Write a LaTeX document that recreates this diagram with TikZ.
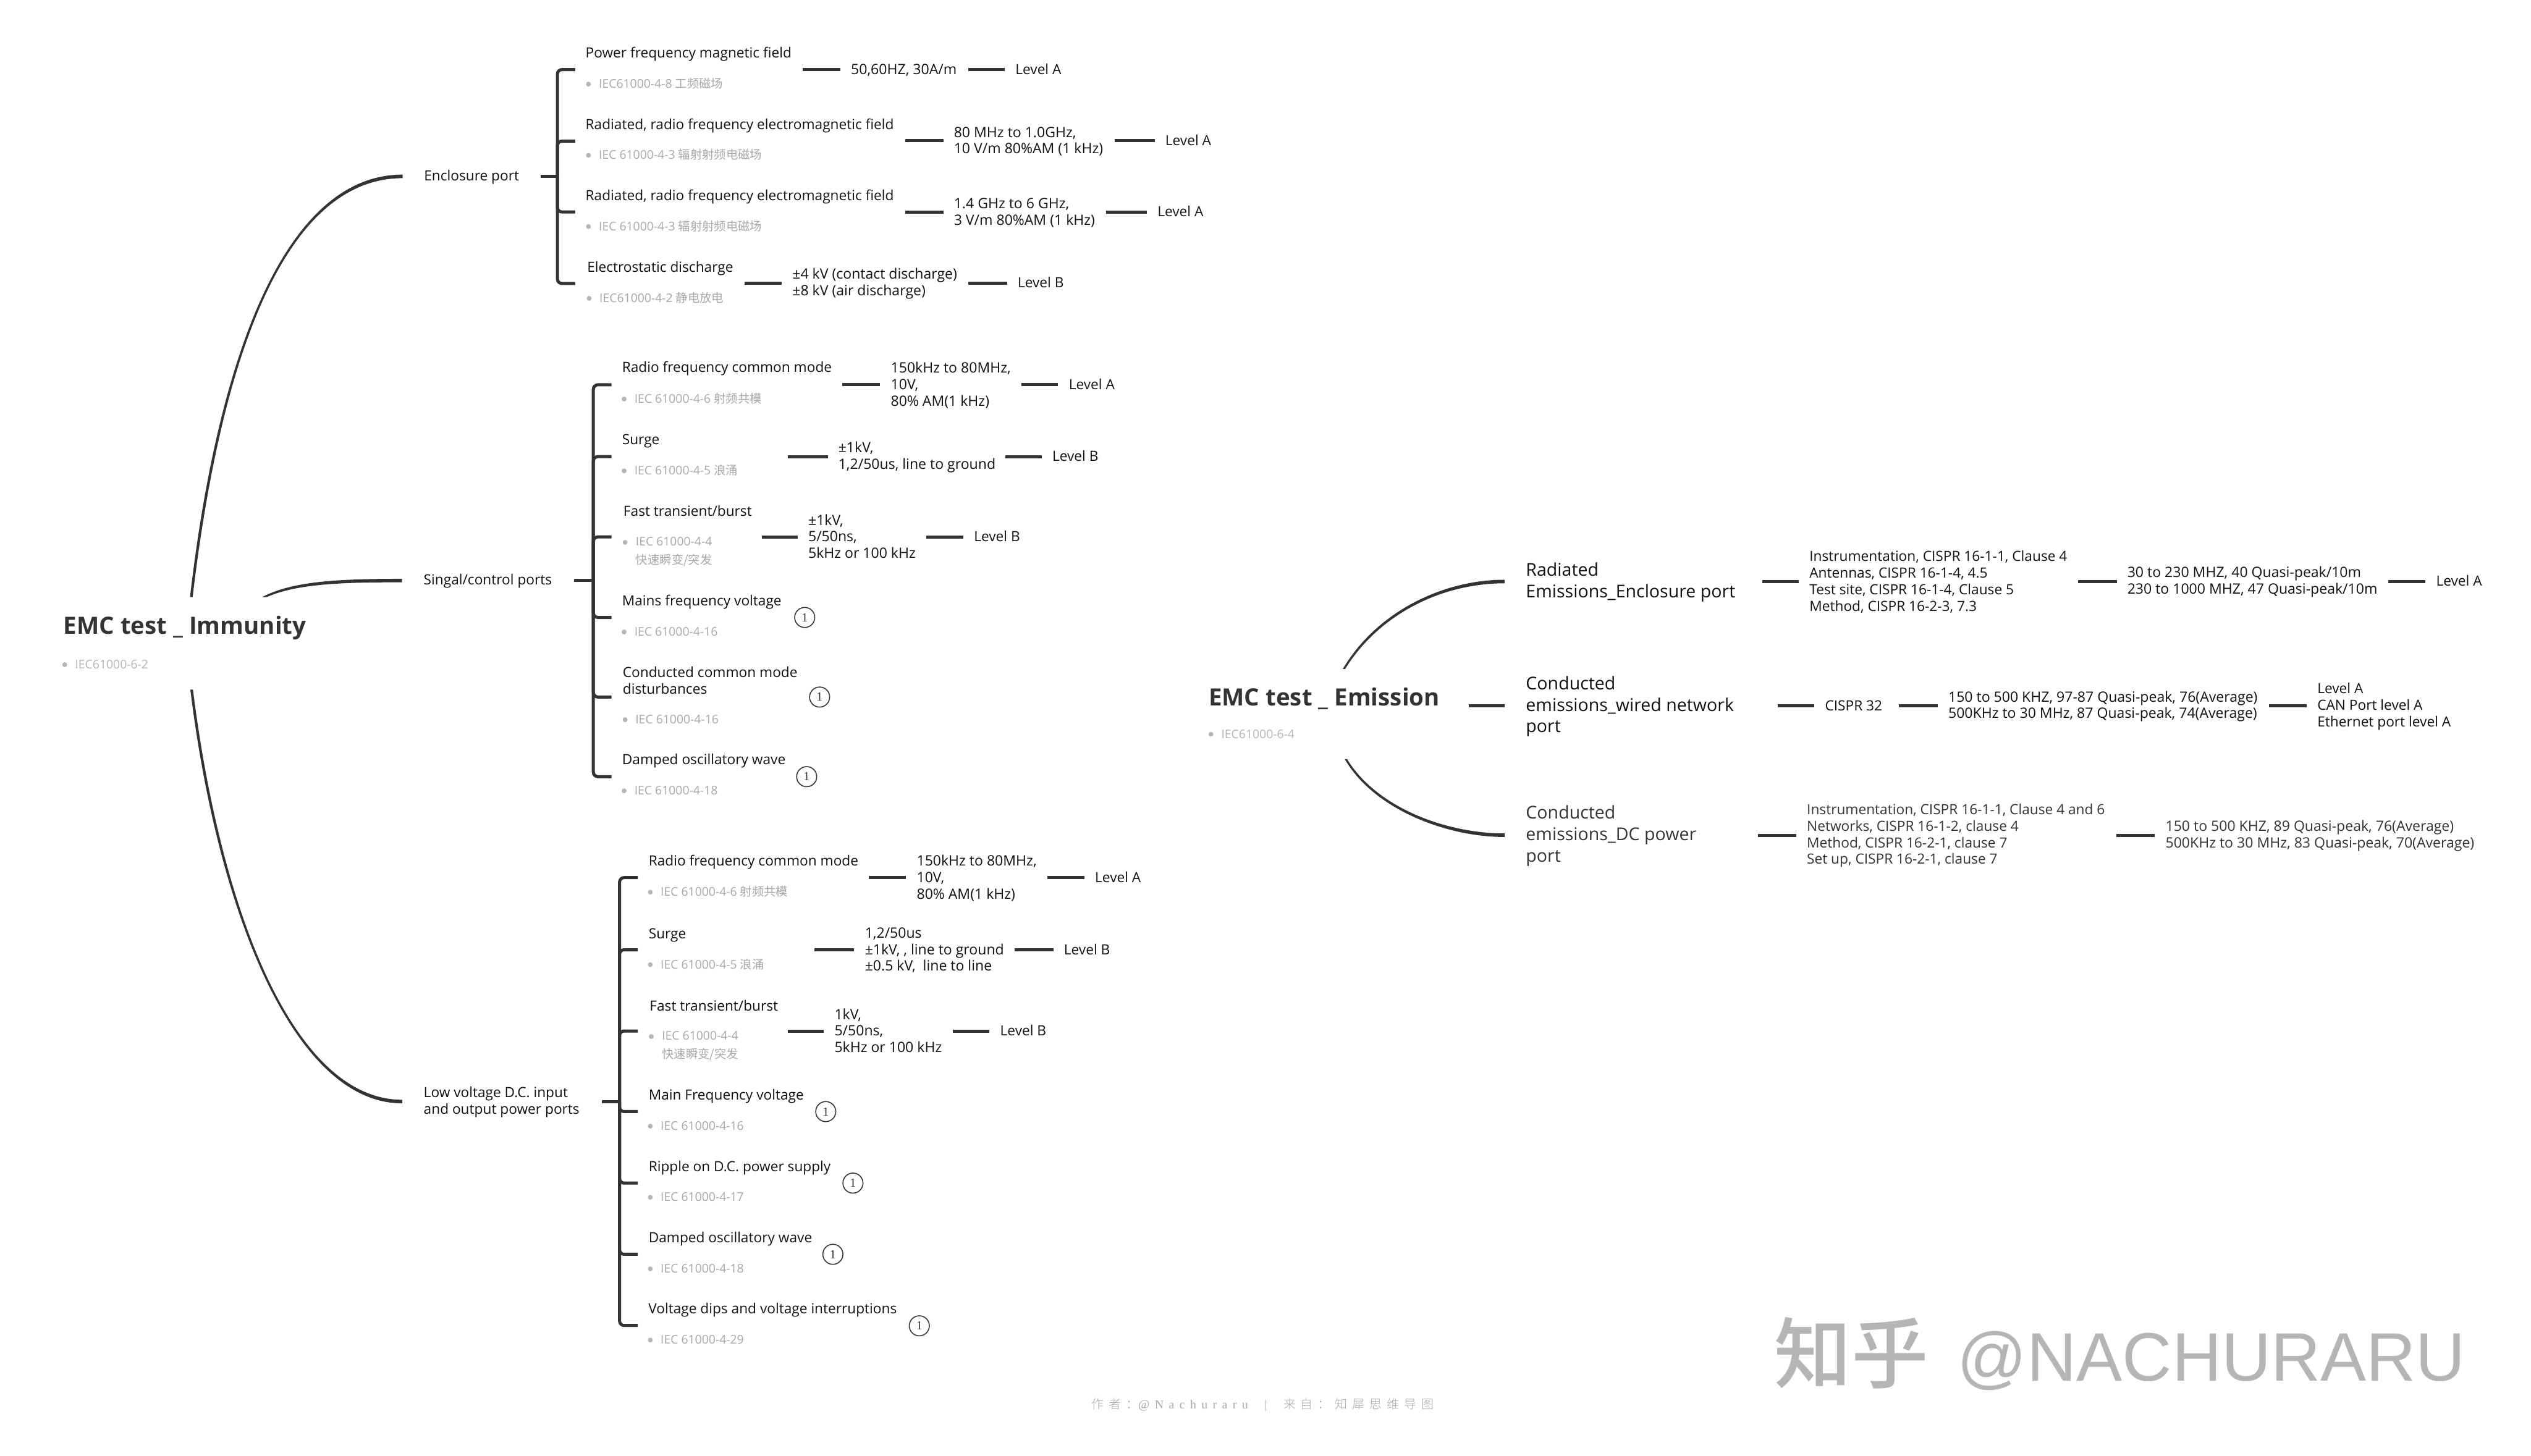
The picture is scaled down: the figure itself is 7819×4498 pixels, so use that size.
\documentclass[tikz,border=0pt]{standalone}
\usepackage{fontspec}
\usetikzlibrary{calc}
\setmainfont{Open Sans}
\newfontfamily\cjk{Noto Sans CJK SC}
\newfontfamily\cjkm{Noto Sans CJK SC Medium}
\newfontfamily\footc[LetterSpace=40]{Noto Sans CJK SC Light}
\newfontfamily\footl[LetterSpace=42]{Liberation Serif}
\newfontfamily\wmark{Liberation Sans}
\newfontfamily\numf{Liberation Serif}
\definecolor{ink}{HTML}{333333}
\definecolor{txt}{HTML}{111111}
\definecolor{subc}{HTML}{A8A8A8}
\definecolor{dotc}{HTML}{B5B5B5}
\newcommand\Z{\rule[-.17em]{0pt}{1.01em}}
\newcommand\fs[2]{\fontsize{#1}{#2}\selectfont}
\tikzset{
  x=1pt,y=-1pt,
  link/.style={draw=ink,line width=9.5pt},
  hook/.style={link,rounded corners=14pt},
  curve/.style={fill=ink,draw=none},
  body/.style={anchor=west,inner sep=0pt,outer sep=0pt,align=left,text=txt,font=\fs{43.3}{51}},
  bodyd/.style={body,text=ink},
  val/.style={body,font=\fs{44}{51}},
  vald/.style={val,text=ink},
  big/.style={body,font=\fs{54.5}{66.5}},
  bigd/.style={big,text=ink},
  rootn/.style={body,text=ink,font=\fs{73.5}{88}\bfseries},
  sub/.style={body,text=subc,font=\fs{37}{58}},
  rsub/.style={sub,text=dotc},
  dotm/.style={circle,fill=dotc,draw=none,inner sep=0pt,minimum size=15pt},
  mark1/.style={circle,draw=ink,line width=3pt,inner sep=0pt,minimum size=62pt,font=\numf\fs{38}{44},text=ink},
}
\newcommand\subn[4]{\node[dotm] (#1d) at (#2,#3) {}; \node[sub] (#1) at (#2+32,#3) {#4};}
\newcommand\dlink[3][35]{\draw[link] ([xshift=#1pt]#2.east |- #3.west) -- ([xshift=-33pt]#3.west);}
\begin{document}
\begin{tikzpicture}
\useasboundingbox (0,0) rectangle (7819,4498);
\fill[white] (0,0) rectangle (7819,4498);

% ---------- Immunity root
\node[rootn] (root1) at (196,1938) {\Z EMC test \_ Immunity};
\node[dotm] (root1d) at (200,2054) {};
\node[rsub] (root1s) at (232,2054) {\Z IEC61000-6-2};

\node[body] (encl) at (1310,545) {\Z Enclosure port};
\node[body] (sig) at (1309,1794) {\Z Singal/control ports};
\node[body] (low) at (1309,3404) {\Z Low voltage D.C. input\\\Z and output power ports};

\coordinate (c1s) at (591,1845);
\coordinate (c1e) at ([xshift=-66pt]encl.west);
\coordinate (c2s) at (817,1845);
\coordinate (c2e) at ([xshift=-67pt]sig.west);
\coordinate (c3s) at (592,2131);
\coordinate (c3e) at ([xshift=-66pt]low.west);
\fill[curve] ($(c1s)+(-4,0)$) .. controls (680,1045) and (900,539.5) .. ($(c1e)+(0,-5.5)$) -- ($(c1e)+(0,5.5)$) .. controls (900,550.5) and (690,1045) .. ($(c1s)+(4,0)$) -- cycle;
\fill[curve] ($(c2s)+(-7,0)$) .. controls (905,1795) and (1050,1789) .. ($(c2e)+(0,-5.5)$) -- ($(c2e)+(0,5.5)$) .. controls (1050,1799) and (915,1805) .. ($(c2s)+(7,0)$) -- cycle;
\fill[curve] ($(c3s)+(-4,0)$) .. controls (674,2831) and (913,3410.5) .. ($(c3e)+(0,5.5)$) -- ($(c3e)+(0,-5.5)$) .. controls (913,3399.5) and (684,2831) .. ($(c3s)+(4,0)$) -- cycle;

% ---------- Enclosure port branch
\coordinate (ehub) at (1722,545);
\draw[link] ([xshift=67pt]encl.east) -- (ehub);
\foreach \y in {215,436,655,876}{\coordinate (eb\y) at (1777,\y); \draw[hook] (ehub) |- (eb\y);}

\node[body] (e1t) at (1809,166) {\Z Power frequency magnetic field};
\subn{e1s}{1818}{260}{\Z IEC61000-4-8 {\cjk 工频磁场}}
\node[val] (e1v) at (2629,215) {\Z 50,60HZ, 30A/m};
\node[body] (e1l) at (3137,215) {\Z Level A};
\dlink{e1t}{e1v} \dlink{e1v}{e1l}

\node[body] (e2t) at (1809,386) {\Z Radiated, radio frequency electromagnetic field};
\subn{e2s}{1818}{480}{\Z IEC 61000-4-3 {\cjk 辐射射频电磁场}}
\node[val] (e2v) at (2947,435) {\Z 80 MHz to 1.0GHz,\\\Z 10 V/m 80\%AM (1 kHz)};
\node[body] (e2l) at (3600,435) {\Z Level A};
\dlink{e2t}{e2v} \dlink{e2v}{e2l}

\node[body] (e3t) at (1809,606) {\Z Radiated, radio frequency electromagnetic field};
\subn{e3s}{1818}{700}{\Z IEC 61000-4-3 {\cjk 辐射射频电磁场}}
\node[val] (e3v) at (2947,655) {\Z 1.4 GHz to 6 GHz,\\\Z 3 V/m 80\%AM (1 kHz)};
\node[body] (e3l) at (3576,655) {\Z Level A};
\dlink{e3t}{e3v} \dlink{e3v}{e3l}

\node[body] (e4t) at (1814,827) {\Z Electrostatic discharge};
\subn{e4s}{1820}{922}{\Z IEC61000-4-2 {\cjk 静电放电}}
\node[val] (e4v) at (2448,875) {\Z ±4 kV (contact discharge)\\\Z ±8 kV (air discharge)};
\node[body] (e4l) at (3144,875) {\Z Level B};
\dlink{e4t}{e4v} \dlink{e4v}{e4l}

% ---------- Signal ports branch
\coordinate (shub) at (1833,1794);
\draw[link] ([xshift=69pt]sig.east) -- (shub);
\foreach \y in {1189,1411,1659,1908,2154,2400}{\coordinate (sb\y) at (1889,\y); \draw[hook] (shub) |- (sb\y);}

\node[body] (s1t) at (1922,1138) {\Z Radio frequency common mode};
\subn{s1s}{1928}{1233}{\Z IEC 61000-4-6 {\cjk 射频共模}}
\node[val] (s1v) at (2752,1189) {\Z 150kHz to 80MHz,\\\Z 10V,\\\Z 80\% AM(1 kHz)};
\node[body] (s1l) at (3302,1189) {\Z Level A};
\dlink[33]{s1t}{s1v} \dlink[33]{s1v}{s1l}

\node[body] (s2t) at (1922,1361) {\Z Surge};
\subn{s2s}{1928}{1455}{\Z IEC 61000-4-5 {\cjk 浪涌}}
\node[val] (s2v) at (2590,1411) {\Z ±1kV,\\\Z 1,2/50us, line to ground};
\node[body] (s2l) at (3251,1411) {\Z Level B};
\dlink[155]{s2s}{s2v} \dlink[30]{s2v}{s2l}

\node[body] (s3t) at (1926,1581) {\Z Fast transient/burst};
\node[dotm] (s3sd) at (1931,1676) {};
\node[sub,anchor=north west] (s3s) at (1964,1655) {\Z IEC 61000-4-4\\\Z {\cjk 快速瞬变/突发}};
\node[val] (s3v) at (2497,1659) {\Z ±1kV,\\\Z 5/50ns,\\\Z 5kHz or 100 kHz};
\node[body] (s3l) at (3009,1659) {\Z Level B};
\dlink[30]{s3t}{s3v} \dlink[33]{s3v}{s3l}

\node[body] (s4t) at (1922,1858) {\Z Mains frequency voltage};
\subn{s4s}{1928}{1953}{\Z IEC 61000-4-16}
\node[mark1] (s4m) at (2486,1908) {1};

\node[body] (s5t) at (1924,2105) {\Z Conducted common mode\\\Z disturbances};
\subn{s5s}{1931}{2224}{\Z IEC 61000-4-16}
\node[mark1] (s5m) at (2532,2154) {1};

\node[body] (s6t) at (1922,2350) {\Z Damped oscillatory wave};
\subn{s6s}{1928}{2444}{\Z IEC 61000-4-18}
\node[mark1] (s6m) at (2492,2400) {1};

% ---------- Low voltage branch
\coordinate (lhub) at (1914,3404);
\draw[link] ([xshift=69pt]low.east) -- (lhub);
\foreach \y in {2712,2935,3186,3435,3656,3876,4096}{\coordinate (lb\y) at (1970,\y); \draw[hook] (lhub) |- (lb\y);}

\node[body] (l1t) at (2004,2662) {\Z Radio frequency common mode};
\subn{l1s}{2009}{2757}{\Z IEC 61000-4-6 {\cjk 射频共模}}
\node[val] (l1v) at (2832,2712) {\Z 150kHz to 80MHz,\\\Z 10V,\\\Z 80\% AM(1 kHz)};
\node[body] (l1l) at (3383,2712) {\Z Level A};
\dlink[33]{l1t}{l1v} \dlink[33]{l1v}{l1l}

\node[body] (l2t) at (2004,2887) {\Z Surge};
\subn{l2s}{2009}{2981}{\Z IEC 61000-4-5 {\cjk 浪涌}}
\node[val] (l2v) at (2672,2935) {\Z 1,2/50us\\\Z ±1kV, , line to ground\\\Z ±0.5 kV,\ \ line to line};
\node[body] (l2l) at (3287,2935) {\Z Level B};
\dlink[155]{l2s}{l2v} \dlink[33]{l2v}{l2l}

\node[body] (l3t) at (2007,3109) {\Z Fast transient/burst};
\node[dotm] (l3sd) at (2012,3203) {};
\node[sub,anchor=north west] (l3s) at (2045,3182) {\Z IEC 61000-4-4\\\Z {\cjk 快速瞬变/突发}};
\node[val] (l3v) at (2578,3186) {\Z 1kV,\\\Z 5/50ns,\\\Z 5kHz or 100 kHz};
\node[body] (l3l) at (3090,3186) {\Z Level B};
\dlink[30]{l3t}{l3v} \dlink[33]{l3v}{l3l}

\node[body] (l4t) at (2004,3386) {\Z Main Frequency voltage};
\subn{l4s}{2009}{3480}{\Z IEC 61000-4-16}
\node[mark1] (l4m) at (2551,3435) {1};

\node[body] (l5t) at (2004,3607) {\Z Ripple on D.C. power supply};
\subn{l5s}{2009}{3700}{\Z IEC 61000-4-17}
\node[mark1] (l5m) at (2635,3656) {1};

\node[body] (l6t) at (2004,3827) {\Z Damped oscillatory wave};
\subn{l6s}{2009}{3921}{\Z IEC 61000-4-18}
\node[mark1] (l6m) at (2573,3876) {1};

\node[body] (l7t) at (2003,4047) {\Z Voltage dips and voltage interruptions};
\subn{l7s}{2009}{4141}{\Z IEC 61000-4-29}
\node[mark1] (l7m) at (2840,4097) {1};

% ---------- Emission root
\node[rootn] (root2) at (3734,2157) {\Z EMC test \_ Emission};
\node[dotm] (root2d) at (3741,2269) {};
\node[rsub] (root2s) at (3773,2269) {\Z IEC61000-6-4};

\node[big] (r1) at (4714,1797) {\Z Radiated\\\Z Emissions\_Enclosure port};
\node[big] (r2) at (4714,2181) {\Z Conducted\\\Z emissions\_wired network\\\Z port};
\node[bigd] (r3) at (4714,2581) {\Z Conducted\\\Z emissions\_DC power\\\Z port};

\coordinate (d1s) at (4152,2067);
\coordinate (d1e) at ([xshift=-66pt]r1.west);
\coordinate (d3s) at (4158,2346);
\coordinate (d3e) at ([xshift=-66pt]r3.west);
\fill[curve] ($(d1s)+(-3.5,0)$) .. controls (4255,1888) and (4460,1791.5) .. ($(d1e)+(0,-5.5)$) -- ($(d1e)+(0,5.5)$) .. controls (4460,1802.5) and (4265,1892) .. ($(d1s)+(3.5,0)$) -- cycle;
\fill[curve] ($(d3s)+(-3.5,0)$) .. controls (4245,2502) and (4470,2586.5) .. ($(d3e)+(0,5.5)$) -- ($(d3e)+(0,-5.5)$) .. controls (4470,2575.5) and (4255,2498) .. ($(d3s)+(3.5,0)$) -- cycle;
\draw[link] ([xshift=90pt]root2.east |- r2.west) -- ([xshift=-66pt]r2.west);

\node[body] (r1a) at (5590,1797) {\Z Instrumentation, CISPR 16-1-1, Clause 4\\\Z Antennas, CISPR 16-1-4, 4.5\\\Z Test site, CISPR 16-1-4, Clause 5\\\Z Method, CISPR 16-2-3, 7.3};
\node[val] (r1b) at (6572,1797) {\Z 30 to 230 MHZ, 40 Quasi-peak/10m\\\Z 230 to 1000 MHZ, 47 Quasi-peak/10m};
\node[body] (r1c) at (7526,1797) {\Z Level A};
\dlink[83]{r1}{r1a} \dlink[34]{r1a}{r1b} \dlink[34]{r1b}{r1c}

\node[body] (r2a) at (5638,2181) {\Z CISPR 32};
\node[val] (r2b) at (6019,2181) {\Z 150 to 500 KHZ, 97-87 Quasi-peak, 76(Average)\\\Z 500KHz to 30 MHz, 87 Quasi-peak, 74(Average)};
\node[body] (r2c) at (7159,2181) {\Z Level A\\\Z CAN Port level A\\\Z Ethernet port level A};
\dlink[136]{r2}{r2a} \dlink[52]{r2a}{r2b} \dlink[36]{r2b}{r2c}

\node[bodyd] (r3a) at (5582,2581) {\Z Instrumentation, CISPR 16-1-1, Clause 4 and 6\\\Z Networks, CISPR 16-1-2, clause 4\\\Z Method, CISPR 16-2-1, clause 7\\\Z Set up, CISPR 16-2-1, clause 7};
\node[vald] (r3b) at (6690,2581) {\Z 150 to 500 KHZ, 89 Quasi-peak, 76(Average)\\\Z 500KHz to 30 MHz, 83 Quasi-peak, 70(Average)};
\dlink[190]{r3}{r3a} \dlink[36]{r3a}{r3b}

% ---------- footer and watermark
\node[anchor=west,inner sep=0pt,text=subc,font=\fs{38}{44}] (foot) at (3372,4342)
  {\footc 作者：\footl @Nachuraru\ \ |\ \ \footc 来自：知犀思维导图};
\node[anchor=base west,inner sep=0pt,text=dotc,font=\fs{238}{280}] (wm1) at (5482,4272) {\cjkm 知乎};
\node[anchor=base west,inner sep=0pt,text=dotc,font=\fs{212}{260}] (wm2) at (6047,4268) {\wmark @NACHURARU};
\end{tikzpicture}
\end{document}
